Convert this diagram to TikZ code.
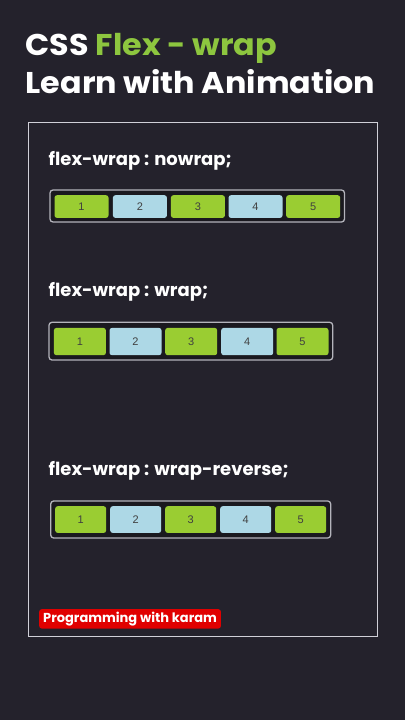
\documentclass[tikz,border=0pt]{standalone}
\usepackage{fontspec}
\setmainfont{Poppins}
\newfontfamily\titlefont{Poppins}[FakeStretch=1.06]
\newfontfamily\numfont{Liberation Sans}
\definecolor{bgc}{HTML}{24222C}
\definecolor{tgreen}{HTML}{8DC63F}
\definecolor{igreen}{HTML}{9ACD32}
\definecolor{iblue}{HTML}{ADD8E6}
\definecolor{cfill}{HTML}{1A191F}
\definecolor{cline}{HTML}{B4B4BC}
\definecolor{pline}{HTML}{D0D0D8}
\definecolor{redl}{HTML}{E00000}
\tikzset{
  gitem/.style={draw=none, fill=igreen, rounded corners=2.5pt, inner sep=0pt, font=\numfont\fontsize{11}{11}\selectfont, text=black!75},
  bitem/.style={gitem, fill=iblue},
  cont/.style={draw=cline, line width=1.3pt, fill=cfill, rounded corners=3pt},
  heading/.style={anchor=base west, inner sep=0pt, text=white, font=\bfseries\fontsize{18}{18}\selectfont},
  titletext/.style={anchor=base west, inner sep=0pt, text=white, font=\titlefont\bfseries\fontsize{30}{30}\selectfont},
}
\begin{document}
\begin{tikzpicture}[x=1pt,y=-1pt]
\fill[bgc] (0,0) rectangle (405,720);
\useasboundingbox (0,0) rectangle (405,720);
\node[titletext] (t1) at (25.5,55) {CSS \textcolor{tgreen}{Flex - wrap}};
\node[titletext] (t2) at (25.5,93.5) {Learn with Animation};
\draw[pline, line width=1pt] (28,122) rectangle (377,636);
% section 1
\node[heading] (h1) at (48.5,165.5) {flex-wrap : nowrap;};
\path[cont] (50,190) rectangle (344.5,222);
\foreach \i/\x/\s in {1/54.3/gitem,2/112.7/bitem,3/170.7/gitem,4/228.3/bitem,5/286/gitem}{
  \node[\s, minimum width=54pt, minimum height=22.7pt, anchor=north west] (a\i) at (\x,195) {\i};
}
% section 2
\node[heading] (h2) at (48.5,296) {flex-wrap : wrap;};
\path[cont] (49,322.3) rectangle (332.7,360);
\foreach \i/\x/\s in {1/53.7/gitem,2/109.3/bitem,3/165/gitem,4/221/bitem,5/276.3/gitem}{
  \node[\s, minimum width=52pt, minimum height=27.3pt, anchor=north west] (b\i) at (\x,327.7) {\i};
}
% section 3
\node[heading] (h3) at (48.5,475.5) {flex-wrap : wrap-reverse;};
\path[cont] (50.7,501) rectangle (330.7,538);
\foreach \i/\x/\s in {1/55/gitem,2/110/bitem,3/165/gitem,4/220/bitem,5/275/gitem}{
  \node[\s, minimum width=51pt, minimum height=26.7pt, anchor=north west] (c\i) at (\x,506) {\i};
}
% label
\node[fill=redl, rounded corners=2.5pt, text=white, anchor=north west, minimum width=181.7pt, minimum height=19.3pt, inner sep=0pt, font=\bfseries\fontsize{13}{13}\selectfont] (lab) at (39,609) {Programming with karam};
\end{tikzpicture}
\end{document}
